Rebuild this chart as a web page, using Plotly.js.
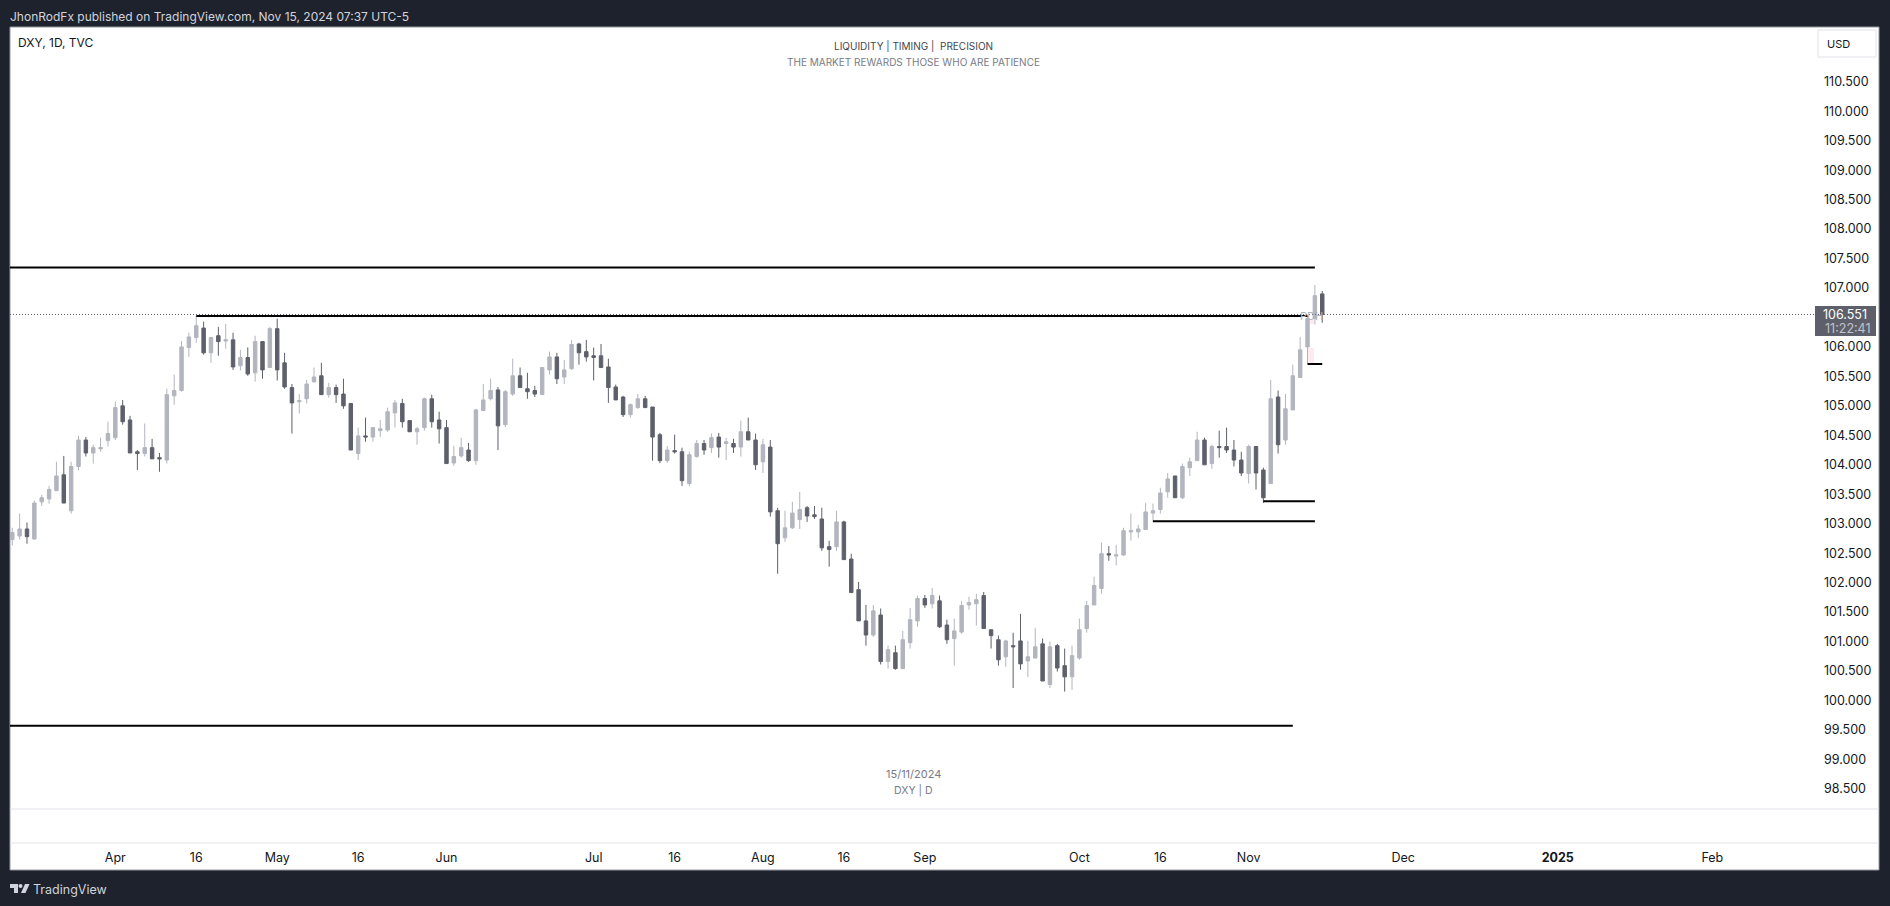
<!DOCTYPE html>
<html>
<head>
<meta charset="utf-8">
<title>DXY, 1D, TVC</title>
<script src="https://cdn.plot.ly/plotly-3.0.1.min.js"></script>
<style>html,body{margin:0;padding:0;background:#1e222d;overflow:hidden}#chart{width:1890px;height:906px}</style>
</head>
<body>
<div id="chart"></div>
<script>
const dates = [
"2024-03-12","2024-03-13","2024-03-14","2024-03-15",
"2024-03-18","2024-03-19","2024-03-20","2024-03-21","2024-03-22",
"2024-03-25","2024-03-26","2024-03-27","2024-03-28","2024-03-29",
"2024-04-01","2024-04-02","2024-04-03","2024-04-04","2024-04-05",
"2024-04-08","2024-04-09","2024-04-10","2024-04-11","2024-04-12",
"2024-04-15","2024-04-16","2024-04-17","2024-04-18","2024-04-19",
"2024-04-22","2024-04-23","2024-04-24","2024-04-25","2024-04-26",
"2024-04-29","2024-04-30","2024-05-01","2024-05-02","2024-05-03",
"2024-05-06","2024-05-07","2024-05-08","2024-05-09","2024-05-10",
"2024-05-13","2024-05-14","2024-05-15","2024-05-16","2024-05-17",
"2024-05-20","2024-05-21","2024-05-22","2024-05-23","2024-05-24",
"2024-05-27","2024-05-28","2024-05-29","2024-05-30","2024-05-31",
"2024-06-03","2024-06-04","2024-06-05","2024-06-06","2024-06-07",
"2024-06-10","2024-06-11","2024-06-12","2024-06-13","2024-06-14",
"2024-06-17","2024-06-18","2024-06-19","2024-06-20","2024-06-21",
"2024-06-24","2024-06-25","2024-06-26","2024-06-27","2024-06-28",
"2024-07-01","2024-07-02","2024-07-03","2024-07-04","2024-07-05",
"2024-07-08","2024-07-09","2024-07-10","2024-07-11","2024-07-12",
"2024-07-15","2024-07-16","2024-07-17","2024-07-18","2024-07-19",
"2024-07-22","2024-07-23","2024-07-24","2024-07-25","2024-07-26",
"2024-07-29","2024-07-30","2024-07-31","2024-08-01","2024-08-02",
"2024-08-05","2024-08-06","2024-08-07","2024-08-08","2024-08-09",
"2024-08-12","2024-08-13","2024-08-14","2024-08-15","2024-08-16",
"2024-08-19","2024-08-20","2024-08-21","2024-08-22","2024-08-23",
"2024-08-26","2024-08-27","2024-08-28","2024-08-29","2024-08-30",
"2024-09-02","2024-09-03","2024-09-04","2024-09-05","2024-09-06",
"2024-09-09","2024-09-10","2024-09-11","2024-09-12","2024-09-13",
"2024-09-16","2024-09-17","2024-09-18","2024-09-19","2024-09-20",
"2024-09-23","2024-09-24","2024-09-25","2024-09-26","2024-09-27",
"2024-09-30","2024-10-01","2024-10-02","2024-10-03","2024-10-04",
"2024-10-07","2024-10-08","2024-10-09","2024-10-10","2024-10-11",
"2024-10-14","2024-10-15","2024-10-16","2024-10-17","2024-10-18",
"2024-10-21","2024-10-22","2024-10-23","2024-10-24","2024-10-25",
"2024-10-28","2024-10-29","2024-10-30","2024-10-31","2024-11-01",
"2024-11-04","2024-11-05","2024-11-06","2024-11-07","2024-11-08",
"2024-11-11","2024-11-12","2024-11-13","2024-11-14","2024-11-15"];

const opens = [
102.73,102.79,102.91,102.74,103.37,103.42,103.56,103.83,103.22,103.97,
104.42,104.20,104.27,104.41,104.46,105.00,104.76,104.22,104.19,104.29,
104.12,104.08,105.17,105.26,105.99,106.16,106.32,105.90,106.19,106.10,
106.12,105.68,105.82,105.56,106.09,105.65,106.31,105.73,105.31,105.07,
105.12,105.41,105.51,105.19,105.31,105.20,105.04,104.19,104.49,104.47,
104.58,104.59,104.88,105.04,104.75,104.56,104.63,105.12,104.76,104.63,
104.03,104.15,104.25,104.07,104.92,105.12,105.27,104.68,105.20,105.51,
105.29,105.26,105.19,105.61,105.83,105.49,105.63,106.05,105.92,105.85,
105.85,105.66,105.32,105.15,104.85,104.97,105.12,104.98,104.51,104.07,
104.24,104.22,103.68,104.14,104.36,104.29,104.47,104.36,104.36,104.30,
104.56,104.42,104.05,104.30,103.22,102.76,102.93,103.07,103.27,103.15,
103.08,102.61,102.61,103.03,102.40,101.88,101.35,101.11,101.45,100.66,
100.81,100.54,100.98,101.35,101.73,101.64,101.69,101.28,101.05,101.16,
101.62,101.64,101.78,101.20,101.03,100.74,100.93,101.01,100.67,100.72,
100.96,100.27,100.93,100.59,100.40,100.72,101.22,101.62,101.90,102.49,
102.45,102.47,102.86,102.86,102.90,103.18,103.24,103.54,103.81,103.44,
103.95,104.07,104.42,104.02,104.31,104.31,104.25,104.08,103.85,104.31,
103.91,103.68,105.15,104.42,104.93,105.48,106.00,106.48,106.90];

const highs = [
102.93,103.17,103.02,103.39,103.49,103.64,104.05,104.15,104.05,104.49,
104.47,104.34,104.46,104.73,105.07,105.10,104.83,104.25,104.70,104.44,
104.20,105.29,105.53,106.10,106.24,106.53,106.43,106.17,106.34,106.39,
106.24,105.95,105.99,106.19,106.09,106.34,106.48,105.90,105.37,105.20,
105.44,105.65,105.73,105.39,105.36,105.46,105.05,104.63,104.80,104.64,
104.76,104.97,105.10,105.12,104.75,104.64,105.14,105.19,104.90,104.76,
104.32,104.46,104.37,104.95,105.37,105.46,105.32,105.27,105.80,105.65,
105.56,105.34,105.66,105.92,105.90,105.78,106.12,106.07,106.12,105.99,
106.05,105.80,105.36,105.17,105.04,105.20,105.17,104.98,104.54,104.32,
104.51,104.29,104.22,104.42,104.42,104.53,104.54,104.46,104.44,104.75,
104.80,104.53,104.44,104.42,103.27,103.22,103.37,103.54,103.30,103.30,
103.27,102.71,103.22,103.05,102.49,102.01,101.62,101.62,101.56,100.93,
100.93,101.18,101.57,101.78,101.79,101.91,101.78,101.37,101.39,101.69,
101.76,101.81,101.84,101.20,101.10,101.03,101.15,101.47,101.01,101.23,
101.05,101.00,100.96,100.88,100.93,101.39,101.69,102.10,102.68,102.62,
102.64,102.93,103.17,102.98,103.35,103.34,103.61,103.86,103.81,104.02,
104.12,104.56,104.46,104.34,104.58,104.63,104.42,104.22,104.34,104.31,
103.95,105.44,105.26,105.20,105.70,106.17,106.53,107.05,106.95];

const lows = [
102.63,102.73,102.66,102.73,103.30,103.34,103.56,103.35,103.17,103.91,
104.14,104.02,104.22,104.31,104.42,104.68,104.20,103.91,104.14,104.10,
103.88,104.02,105.02,105.24,105.83,106.07,105.87,105.73,105.85,105.97,
105.61,105.60,105.51,105.41,105.46,105.65,105.43,105.29,104.53,104.87,
105.04,105.39,105.19,105.14,105.05,104.95,104.25,104.08,104.39,104.39,
104.47,104.56,104.63,104.63,104.56,104.34,104.58,104.63,104.36,104.02,
103.98,104.12,104.05,104.00,104.92,105.09,104.25,104.64,105.17,105.31,
105.12,105.15,105.19,105.53,105.37,105.37,105.61,105.70,105.75,105.43,
105.65,105.05,105.10,104.81,104.80,104.95,104.97,104.07,104.03,104.03,
104.19,103.64,103.64,104.12,104.17,104.20,104.12,104.08,104.20,104.14,
104.42,103.91,103.86,103.12,102.15,102.69,102.91,102.91,103.03,103.08,
102.54,102.27,102.54,102.39,101.83,101.35,100.93,101.08,100.61,100.54,
100.52,100.54,100.88,101.25,101.57,101.56,101.23,100.96,100.59,101.13,
101.54,101.27,101.22,100.88,100.59,100.57,100.21,100.52,100.40,100.71,
100.33,100.21,100.49,100.15,100.18,100.69,101.15,101.62,101.81,102.37,
102.29,102.45,102.71,102.76,102.90,103.03,103.17,103.44,103.44,103.42,
103.81,104.07,104.00,103.93,104.12,104.20,103.97,103.81,103.68,103.58,
103.35,103.68,104.19,104.34,104.93,105.48,105.71,106.38,106.41];

const closes = [
102.85,102.91,102.78,103.35,103.44,103.58,103.81,103.35,103.97,104.42,
104.20,104.29,104.29,104.53,104.97,104.73,104.20,104.19,104.29,104.10,
104.10,105.19,105.26,106.00,106.17,106.36,105.90,106.16,106.09,106.12,
105.66,105.82,105.54,106.09,105.61,106.31,105.61,105.32,105.05,105.09,
105.37,105.49,105.19,105.31,105.19,105.00,104.25,104.49,104.47,104.63,
104.61,104.90,105.05,104.73,104.56,104.61,105.12,104.73,104.61,104.02,
104.14,104.29,104.07,104.93,105.10,105.26,104.66,105.24,105.51,105.31,
105.24,105.20,105.65,105.83,105.46,105.61,106.04,105.90,105.83,105.82,
105.65,105.31,105.10,104.85,105.02,105.12,104.97,104.47,104.07,104.25,
104.22,103.73,104.17,104.36,104.25,104.46,104.30,104.39,104.30,104.56,
104.42,104.00,104.34,103.20,102.66,102.93,103.18,103.24,103.13,103.12,
102.59,102.56,103.03,102.39,101.83,101.35,101.11,101.52,100.66,100.86,
100.54,101.03,101.37,101.73,101.62,101.78,101.25,101.03,101.18,101.61,
101.66,101.71,101.22,101.10,100.69,101.01,100.91,100.62,100.74,100.91,
100.33,100.91,100.55,100.40,100.76,101.20,101.61,101.95,102.49,102.47,
102.47,102.88,102.88,102.91,103.20,103.22,103.52,103.76,103.44,103.97,
104.05,104.42,104.00,104.31,104.29,104.25,104.08,103.86,104.31,103.86,
103.44,105.12,104.34,104.95,105.51,105.95,106.48,106.87,106.551];

const priceTicks = [98.5,99,99.5,100,100.5,101,101.5,102,102.5,103,103.5,104,104.5,105,105.5,106,107,107.5,108,108.5,109,109.5,110,110.5];
const timeTickDates = ["2024-04-01","2024-04-16","2024-05-01","2024-05-16","2024-06-03","2024-07-01","2024-07-16","2024-08-01","2024-08-16","2024-09-02","2024-10-01","2024-10-16","2024-11-01","2024-12-02","2025-01-02","2025-02-03"];
const timeTickText = ["Apr","16","May","16","Jun","Jul","16","Aug","16","Sep","Oct","16","Nov","Dec","<b>2025</b>","Feb"];
const closedDays = ["2024-12-25","2025-01-01","2025-01-20"];

const levelPrices = [107.35,106.525,105.71,103.38,103.04,99.57];
const levelStarts = ["2024-03-12 04:34","2024-04-16 12:00","2024-11-13 12:00","2024-11-05 12:00","2024-10-15 12:00","2024-03-12 04:34"];
const levelEnds   = ["2024-11-14 12:00","2024-11-13 12:00","2024-11-15 12:00","2024-11-14 12:00","2024-11-14 12:00","2024-11-11 12:00"];
const lastPrice = 106.551;

// page geometry, for the frame round the chart
const L = 10, R = 1819, T = 27, B = 843, W = 1890, H = 906;
const px = x => (x - L) / (R - L);
const py = y => (B - y) / (B - T);
const noon = d => d + " 12:00";

const candles = {
  type: "candlestick",
  x: dates.map(noon), open: opens, high: highs, low: lows, close: closes,
  increasing: {line: {color: "#b2b5be", width: 1}, fillcolor: "#b2b5be"},
  decreasing: {line: {color: "#5d606b", width: 1}, fillcolor: "#5d606b"},
  whiskerwidth: 0, showlegend: false, hoverinfo: "skip"
};
const levels = levelPrices.map((p, i) => ({
  type: "scatter", mode: "lines",
  x: [levelStarts[i], levelEnds[i]], y: [p, p],
  line: {color: "#000000", width: 2}, showlegend: false, hoverinfo: "skip"
}));

const paperText = (text, x, y, size, color, xanchor, extra) => Object.assign({
  text, xref: "paper", yref: "paper", x: px(x), y: py(y), xanchor, yanchor: "middle",
  showarrow: false, font: {family: "Inter, 'Noto Sans', sans-serif", size, color}
}, extra || {});

const layout = {
  width: W, height: H,
  paper_bgcolor: "#1e222d", plot_bgcolor: "#ffffff",
  margin: {l: L, r: W - R, t: T, b: H - B, pad: 0},
  boxgap: 0.33,
  showlegend: false,
  font: {family: "Inter, 'Noto Sans', sans-serif", color: "#131722"},
  xaxis: {
    type: "date",
    range: ["2024-03-12 04:34", "2025-02-21 23:59"],
    rangebreaks: [{bounds: ["sat", "mon"]}, {values: closedDays}],
    rangeslider: {visible: false},
    tickmode: "array", tickvals: timeTickDates.map(noon), ticktext: timeTickText,
    showgrid: false, zeroline: false, showline: false, ticks: "",
    tickfont: {size: 12.5, color: "#131722"}, ticklabelstandoff: 5
  },
  yaxis: {
    side: "right", type: "linear",
    range: [97.58, 111.43],
    tickmode: "array", tickvals: priceTicks, tickformat: ".3f",
    showgrid: false, zeroline: false, showline: false, ticks: "",
    tickfont: {size: 12.5, color: "#131722"}, ticklabelstandoff: 4
  },
  shapes: [
    {type: "rect", xref: "paper", yref: "paper", x0: px(10), x1: px(1879), y0: py(870), y1: py(27), fillcolor: "#ffffff", line: {color: "#9598a1", width: 1}, layer: "below"},
    {type: "line", xref: "paper", yref: "paper", x0: px(10), x1: px(1879), y0: py(809), y1: py(809), line: {color: "#e0e3eb", width: 1}},
    {type: "line", xref: "paper", yref: "paper", x0: px(10), x1: px(1879), y0: py(843), y1: py(843), line: {color: "#e0e3eb", width: 1}},
    {type: "line", xref: "paper", yref: "y", x0: px(10), x1: px(1815), y0: lastPrice, y1: lastPrice, line: {color: "#5d606b", width: 1, dash: "1px,2px"}},
    {type: "rect", xref: "paper", yref: "paper", x0: px(1308), x1: px(1314), y0: py(363), y1: py(348), fillcolor: "#fdecef", line: {width: 0}, layer: "below"},
    {type: "rect", xref: "paper", yref: "paper", x0: px(1310), x1: px(1314), y0: py(324), y1: py(320), fillcolor: "#fdecef", line: {width: 0}, layer: "below"},
    {type: "rect", xref: "paper", yref: "paper", x0: px(1818), x1: px(1876), y0: py(57), y1: py(30), fillcolor: "#ffffff", line: {color: "#e0e3eb", width: 1}},
    {type: "rect", xref: "paper", yref: "paper", x0: px(1815), x1: px(1876), y0: py(336), y1: py(306), fillcolor: "#5d606b", line: {width: 0}},
    {type: "path", xref: "paper", yref: "paper", fillcolor: "#d1d4dc", line: {width: 0},
      path: `M${px(10)} ${py(884)} L${px(18)} ${py(884)} L${px(18)} ${py(893)} L${px(14)} ${py(893)} L${px(14)} ${py(888)} L${px(10)} ${py(888)} Z`},
    {type: "circle", xref: "paper", yref: "paper", fillcolor: "#d1d4dc", line: {width: 0}, x0: px(18.5), x1: px(22.5), y0: py(888), y1: py(884)},
    {type: "path", xref: "paper", yref: "paper", fillcolor: "#d1d4dc", line: {width: 0},
      path: `M${px(25)} ${py(884)} L${px(29.5)} ${py(884)} L${px(25.5)} ${py(893)} L${px(21)} ${py(893)} Z`}
  ],
  annotations: [
    paperText("JhonRodFx published on TradingView.com, Nov 15, 2024 07:37 UTC-5", 8, 16, 12, "#d1d4dc", "left"),
    paperText("DXY, 1D, TVC", 16, 42.5, 12, "#131722", "left"),
    paperText("LIQUIDITY | TIMING |  PRECISION", 913, 46, 10, "#434651", "center"),
    paperText("THE MARKET REWARDS THOSE WHO ARE PATIENCE", 913, 62.5, 10, "#787b86", "center"),
    paperText("15/11/2024", 913, 773.5, 11, "#787b86", "center"),
    paperText("DXY | D", 913, 790, 10.5, "#787b86", "center"),
    paperText("USD", 1825, 43.5, 11, "#131722", "left"),
    paperText("106.551", 1869, 314.5, 12.5, "#ffffff", "right"),
    paperText("11:22:41", 1873, 328.5, 12.5, "#c0c2ca", "right"),
    paperText("PDH", 1311, 316, 11, "#b2b5be", "center"),
    paperText("TradingView", 31, 889.5, 12.5, "#d1d4dc", "left")
  ]
};

Plotly.newPlot("chart", [candles].concat(levels), layout, {displayModeBar: false, staticPlot: true});
</script>
</body>
</html>
